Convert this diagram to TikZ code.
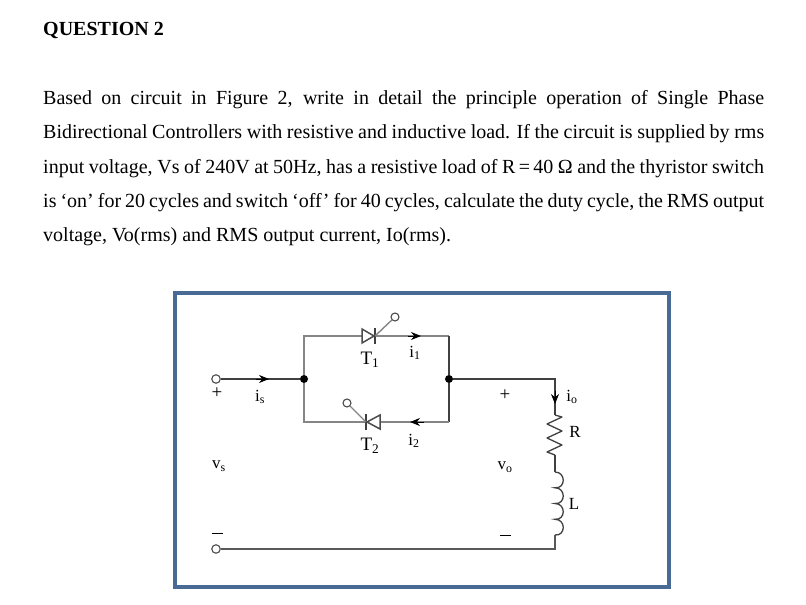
\documentclass[tikz,border=0pt]{standalone}
\usepackage{fontspec}
\setmainfont{Liberation Serif}
\usetikzlibrary{arrows.meta}
\definecolor{framecol}{HTML}{4A6A96}
\definecolor{wiregray}{HTML}{858585}
\tikzset{
  textline/.style={anchor=base west,inner sep=0pt,font=\fontsize{20}{20}\selectfont},
  lbl/.style={inner sep=0pt,font=\fontsize{17}{17}\selectfont},
  wire/.style={draw=black!75,line width=1.3pt},
  branch/.style={draw=wiregray,line width=1.5pt},
  openterm/.style={circle,draw=black!70,fill=white,line width=1.1pt,minimum size=8.5pt,inner sep=0pt},
  joint/.style={circle,fill=black,minimum size=8pt,inner sep=0pt},
  flow/.style={-{Stealth[length=10pt,width=8pt]},black,line width=1pt}
}
\begin{document}
\begin{tikzpicture}[x=1pt,y=-1pt]
\useasboundingbox (0,0) rectangle (806,605);
% question text
\node[textline,font=\fontsize{20}{20}\selectfont\bfseries] (title) at (43,35) {QUESTION 2};
\node[textline] (line1) at (43,104) {\hbox to 721pt{Based on circuit in Figure 2, write in detail the principle operation of Single Phase}};
\node[textline] (line2) at (43,138) {\hbox to 721pt{Bidirectional Controllers with resistive and inductive load. If the circuit is supplied by rms}};
\node[textline] (line3) at (43,173) {\hbox to 721pt{input voltage, Vs of 240V at 50Hz, has a resistive load of R\,=\,40 Ω and the thyristor switch}};
\node[textline] (line4) at (43,207) {\hbox to 721pt{is ‘on’ for 20 cycles and switch ‘off’ for 40 cycles, calculate the duty cycle, the RMS output}};
\node[textline] (line5) at (43,241) {voltage, Vo(rms) and RMS output current, Io(rms).};
% frame
\draw[framecol,line width=3.2pt] (175,293) rectangle (669,587);
% junctions and corners
\node[openterm] (vsp) at (216,379) {};
\node[openterm] (vsn) at (216,549) {};
\node[joint] (jleft) at (304,379) {};
\node[joint] (jright) at (449,379) {};
\coordinate (tl) at (304,336);
\coordinate (tr) at (449,336);
\coordinate (bl) at (304,422);
\coordinate (br) at (449,422);
\coordinate (corner) at (555,379);
\coordinate (rtop) at (555,415);
\coordinate (rbot) at (555,455);
\coordinate (ltop) at (555,472);
\coordinate (lbot) at (555,535);
\coordinate (cornerb) at (555,549);
% wires
\draw[wire] (vsp) -- (jleft);
\draw[branch] (jleft) -- (tl) -- (tr);
\draw[wire] (tr) -- (jright) -- (br);
\draw[branch] (br) -- (bl) -- (jleft);
\draw[wire] (jright) -- (corner) -- (rtop);
\draw[wire] (rbot) -- (ltop);
\draw[wire,draw=black!65] (lbot) -- (cornerb) -- (vsn);
% load
\draw[wire,line join=round] (rtop) -- ++(7,2) -- ++(-15,7) -- ++(15,7) -- ++(-15,7) -- ++(15,7) -- ++(-15,7) -- (rbot);
\draw[wire] (ltop) \foreach \k in {1,2,3,4} { .. controls +(11,0) and +(11,1) .. ++(0,15.75) };
% thyristors
\draw[branch,fill=white,draw=black!70,line width=1.5pt] (362,329) -- (374,336) -- (362,343) -- cycle;
\draw[black!75,line width=1.5pt] (375,328) -- (375,344);
\node[openterm,minimum size=8pt] (g1) at (395,317) {};
\coordinate (k1) at (375,336);
\draw[wiregray,line width=1.4pt] (k1) -- (g1);
\draw[branch,fill=white,draw=black!70,line width=1.5pt] (380,415) -- (367,422) -- (380,429) -- cycle;
\draw[black!75,line width=1.5pt] (366,414) -- (366,430);
\node[openterm,minimum size=8pt] (g2) at (347,403) {};
\coordinate (k2) at (366,422);
\draw[wiregray,line width=1.4pt] (k2) -- (g2);
% current arrows
\coordinate (isa) at (256,379);
\coordinate (isb) at (269,379);
\coordinate (ia) at (408,336);
\coordinate (ib) at (421,336);
\coordinate (iia) at (424,422);
\coordinate (iib) at (410,422);
\coordinate (ioa) at (555,391);
\coordinate (iob) at (555,404);
\draw[flow] (isa) -- (isb);
\draw[flow] (ia) -- (ib);
\draw[flow] (iia) -- (iib);
\draw[flow] (ioa) -- (iob);
% labels
\node[lbl,font=\fontsize{19}{19}\selectfont] (plus1) at (217,393) {+};
\node[lbl] (minus1) at (217,533) {\rule{11pt}{1pt}};
\node[lbl] (lis) at (260,397) {i\textsubscript{s}};
\node[lbl] (lvs) at (219,466) {v\textsubscript{s}};
\node[lbl,font=\fontsize{19}{19}\selectfont] (lt1) at (370,360) {T\textsubscript{1}};
\node[lbl] (li1) at (415,353) {i\textsubscript{1}};
\node[lbl,font=\fontsize{19}{19}\selectfont] (lt2) at (370,446) {T\textsubscript{2}};
\node[lbl] (li2) at (414,441) {i\textsubscript{2}};
\node[lbl,font=\fontsize{19}{19}\selectfont] (plus2) at (505,395) {+};
\node[lbl] (lvo) at (505,467) {v\textsubscript{o}};
\node[lbl] (minus2) at (505,535) {\rule{11pt}{1pt}};
\node[lbl] (lio) at (572,397) {i\textsubscript{o}};
\node[lbl] (lr) at (575,432) {R};
\node[lbl] (ll) at (574,504) {L};
\end{tikzpicture}
\end{document}
